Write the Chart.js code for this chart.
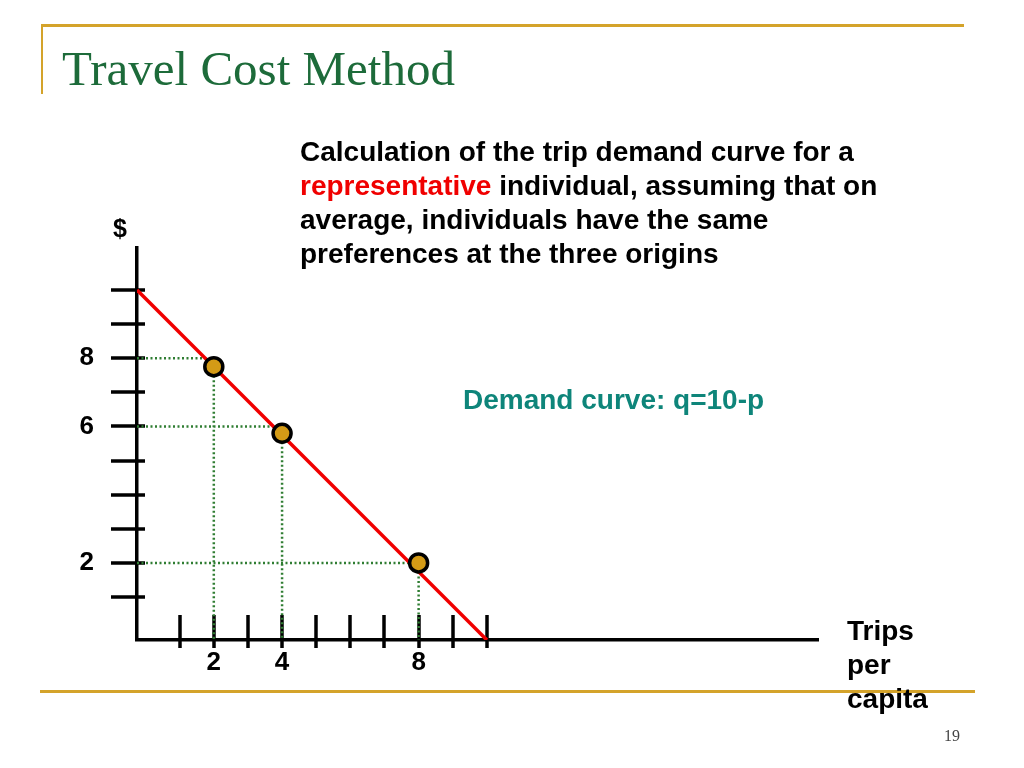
<!DOCTYPE html>
<html>
<head>
<meta charset="utf-8">
<script src="https://cdn.jsdelivr.net/npm/chart.js@4"></script>
<style>
    body { margin: 0; background: #fff; }
    #slide { position: relative; width: 1024px; height: 768px; overflow: hidden; font-family: "Liberation Sans", Arial, sans-serif; }
    #chart { position: absolute; left: 0; top: 0; }
    .gold { position: absolute; background: #d4a32a; }
    .txt { position: absolute; font-weight: bold; font-size: 28px; line-height: 34px; color: #000; white-space: nowrap; }
    #titulo { position: absolute; left: 62px; top: 44px; font-family: "Liberation Serif", "Times New Roman", serif; font-size: 49px; line-height: 50px; color: #1d6b3a; }
    #pagina { position: absolute; left: 944px; top: 727px; font-family: "Liberation Serif", serif; font-size: 16px; color: #444; }
</style>
</head>
<body>
<div id="slide">
    <canvas id="chart" width="1024" height="768"></canvas>
    <div class="gold" style="left:41px; top:24px; width:923px; height:3px;"></div>
    <div class="gold" style="left:41px; top:24px; width:2px; height:70px;"></div>
    <div class="gold" style="left:40px; top:690px; width:935px; height:3px;"></div>
    <div id="titulo">Travel Cost Method</div>
    <div class="txt" style="left:300px; top:135px;">Calculation of the trip demand curve for a<br><span style="color:#f00000">representative</span> individual, assuming that on<br>average, individuals have the same<br>preferences at the three origins</div>
    <div class="txt" style="left:463px; top:383px; color:#0e857a;">Demand curve: q=10-p</div>
    <div class="txt" style="left:113px; top:211px; font-size:25px;">$</div>
    <div class="txt" style="left:847px; top:614px;">Trips<br>per<br>capita</div>
    <div id="pagina">19</div>
</div>
<script>
// Datos de la gráfica
const ejeX = { min: -0.25, max: 19.7 };
const ejeY = { min: -0.26, max: 11.23 };
const marcasX = [1, 2, 3, 4, 5, 6, 7, 8, 9, 10];
const marcasY = [1, 2, 3, 4, 5, 6, 7, 8, 9, 10];
const etiquetasX = [2, 4, 8];
const etiquetasY = [2, 6, 8];

// Curva de demanda (extremos sobre los ejes)
const demandaQ = [-0.25, 10];
const demandaP = [10, -0.26];

// Puntos observados (tres orígenes)
const puntosQ = [2, 4, 8];
const puntosP = [7.75, 5.8, 2];
// Nivel de precio de cada línea guía
const guiasP = [8, 6, 2];

const datosDemanda = demandaQ.map((q, i) => ({ x: q, y: demandaP[i] }));
const datosPuntos = puntosQ.map((q, i) => ({ x: q, y: puntosP[i] }));

// Líneas punteadas: horizontal desde el eje, vertical hasta el eje
const datosGuias = [];
puntosQ.forEach((q, i) => {
    datosGuias.push({ x: ejeX.min, y: guiasP[i] });
    datosGuias.push({ x: q - 0.15, y: guiasP[i] });
    datosGuias.push({ x: q, y: null });
    datosGuias.push({ x: q, y: puntosP[i] });
    datosGuias.push({ x: q, y: ejeY.min });
    datosGuias.push({ x: q + 0.01, y: null });
});

// Marcas que cruzan los ejes
const marcasCruzadas = {
    id: 'marcasCruzadas',
    beforeDatasetsDraw(chart) {
        const { ctx, chartArea, scales } = chart;
        ctx.save();
        ctx.strokeStyle = '#000';
        ctx.lineWidth = 3.5;
        marcasY.forEach(v => {
            const y = Math.round(scales.y.getPixelForValue(v));
            ctx.beginPath();
            ctx.moveTo(chartArea.left - 26, y);
            ctx.lineTo(chartArea.left + 8, y);
            ctx.stroke();
        });
        marcasX.forEach(v => {
            const x = Math.round(scales.x.getPixelForValue(v));
            ctx.beginPath();
            ctx.moveTo(x, chartArea.bottom - 25);
            ctx.lineTo(x, chartArea.bottom + 8);
            ctx.stroke();
        });
        ctx.restore();
    }
};

const ctx = document.getElementById('chart').getContext('2d');
const grafica = new Chart(ctx, {
    type: 'line',
    data: {
        datasets: [
            {
                data: datosPuntos,
                showLine: false,
                pointRadius: 9,
                pointBackgroundColor: '#d49b16',
                pointBorderColor: '#000',
                pointBorderWidth: 3.5
            },
            {
                data: datosDemanda,
                borderColor: '#f00000',
                borderWidth: 3.5,
                pointRadius: 0
            },
            {
                data: datosGuias,
                borderColor: '#2f7d32',
                borderWidth: 2.5,
                borderDash: [2, 2.5],
                pointRadius: 0,
                spanGaps: false
            }
        ]
    },
    options: {
        responsive: false,
        animation: false,
        events: [],
        layout: { padding: { left: 0, top: 248, right: 206, bottom: 0 } },
        plugins: {
            legend: { display: false },
            tooltip: { enabled: false }
        },
        scales: {
            x: {
                type: 'linear',
                min: ejeX.min,
                max: ejeX.max,
                afterFit: s => { s.height = 128; },
                afterBuildTicks: s => { s.ticks = marcasX.map(v => ({ value: v })); },
                grid: { display: false, drawTicks: false },
                border: { display: true, color: '#000', width: 3.5 },
                ticks: {
                    padding: 7,
                    autoSkip: false,
                    maxRotation: 0,
                    color: '#000',
                    font: { family: 'Liberation Sans', size: 26, weight: 'bold' },
                    callback: v => etiquetasX.includes(v) ? String(v) : ''
                }
            },
            y: {
                type: 'linear',
                min: ejeY.min,
                max: ejeY.max,
                afterFit: s => { s.width = 137; },
                afterBuildTicks: s => { s.ticks = marcasY.map(v => ({ value: v })); },
                grid: { display: false, drawTicks: false },
                border: { display: true, color: '#000', width: 3.5 },
                ticks: {
                    padding: 43,
                    autoSkip: false,
                    color: '#000',
                    font: { family: 'Liberation Sans', size: 26, weight: 'bold' },
                    callback: v => etiquetasY.includes(v) ? String(v) : ''
                }
            }
        }
    },
    plugins: [marcasCruzadas]
});
</script>
</body>
</html>
